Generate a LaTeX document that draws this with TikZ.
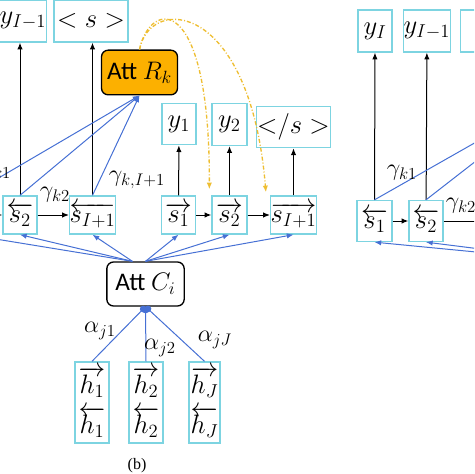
\RequirePackage{fix-cm}
\documentclass[tikz,border=0pt]{standalone}
\usepackage{fontspec}
\setmainfont{Carlito}
\newfontfamily\capfont{Liberation Serif}
\usetikzlibrary{arrows.meta}

\definecolor{boxcyan}{RGB}{125,212,225}
\definecolor{attblue}{RGB}{70,112,212}
\definecolor{attorange}{RGB}{252,176,0}
\definecolor{dashgold}{RGB}{238,190,50}

\tikzset{every picture/.style={line width=0.75pt},
  cellbox/.style={draw=boxcyan, line width=1pt, fill=white, inner sep=0pt, font=\fontsize{20}{24}\selectfont},
  attbox/.style={draw=black, line width=1pt, rounded corners=5pt, inner sep=0pt, minimum width=57pt, minimum height=33.5pt, font=\fontsize{19}{22}\selectfont},
  flow/.style={-{Latex[length=5pt,width=4pt]}, black},
  weight/.style={-{Latex[length=5pt,width=4pt]}, attblue},
  copyarc/.style={-{Latex[length=5pt,width=4pt]}, dashgold, line width=1pt, dash pattern=on 3pt off 1.5pt on 0.75pt off 1.5pt},
  wlabel/.style={inner sep=0.75pt, font=\fontsize{18}{21}\selectfont}
}

\begin{document}
\begin{tikzpicture}[x=0.75pt,y=0.75pt,yscale=-1,xscale=1]
\useasboundingbox (0,0) rectangle (474,474);
\clip (0,0) rectangle (474,474);

% Text Node
\node [cellbox, minimum width=30pt, minimum height=31.5pt] (yIm1L) at (23,21) {$y_{I-1}$};
% Text Node
\node [cellbox, minimum width=55.5pt, minimum height=31.5pt] (bos) at (91,21) {$<s>$};
% Text Node
\node [attbox, fill=attorange] (attR) at (139.5,72.5) {Att $R_k$};
% Text Node
\node [cellbox, minimum width=25.5pt, minimum height=31pt] (y1) at (179,124) {$y_1$};
% Text Node
\node [cellbox, minimum width=26.25pt, minimum height=31.5pt] (y2) at (229.5,124.5) {$y_2$};
% Text Node
\node [cellbox, minimum width=55.5pt, minimum height=31pt] (eos) at (293.5,127) {${<}/s>$};

% Text Node
\node [cellbox, minimum width=25.5pt, minimum height=28.5pt] (s1L) at (-31,215) {$\overleftarrow{s_1}$};
% Text Node
\node [cellbox, minimum width=25.5pt, minimum height=28.5pt] (s2L) at (20,215) {$\overleftarrow{s_2}$};
% Text Node
\node [cellbox, minimum width=32.25pt, minimum height=28.5pt] (sI1L) at (92.5,215) {$\overleftarrow{s_{I+1}}$};
% Text Node
\node [cellbox, minimum width=25.5pt, minimum height=28.5pt] (s1R) at (178.5,215) {$\overrightarrow{s_1}$};
% Text Node
\node [cellbox, minimum width=26.25pt, minimum height=28.5pt] (s2R) at (229.5,215) {$\overrightarrow{s_2}$};
% Text Node
\node [cellbox, minimum width=32.25pt, minimum height=28.5pt] (sI1R) at (293.5,215) {$\overrightarrow{s_{I+1}}$};

% Text Node
\node [attbox, fill=white, minimum width=58pt, minimum height=33pt] (attC) at (145.5,284) {Att $C_i$};
% Text Node
\node [cellbox, minimum width=25.5pt, minimum height=60.75pt, align=center] (h1) at (92,402.5) {$\overrightarrow{h_1}$\\[6pt]$\overleftarrow{h_1}$};
% Text Node
\node [cellbox, minimum width=25.5pt, minimum height=60.75pt, align=center] (h2) at (146,402.5) {$\overrightarrow{h_2}$\\[6pt]$\overleftarrow{h_2}$};
% Text Node
\node [cellbox, minimum width=23.25pt, minimum height=60.75pt, align=center] (hJ) at (204.5,402.5) {$\overrightarrow{h_J}$\\[6pt]$\overleftarrow{h_J}$};
% Text Node
\node [inner sep=0.75pt, font=\capfont\fontsize{12}{14}\selectfont] (capb) at (137,466) {(b)};

% Text Node
\node [cellbox, minimum width=25.5pt, minimum height=31.5pt] (yI) at (375,31) {$y_I$};
% Text Node
\node [cellbox, minimum width=34.5pt, minimum height=31.5pt] (yIm1) at (427,31) {$y_{I-1}$};
% Text Node
\node [cellbox, minimum width=52pt, minimum height=31.5pt] (yIm2) at (495,31) {};
% Text Node
\node [cellbox, minimum width=26.25pt, minimum height=30.75pt] (s1r) at (374.5,221) {$\overleftarrow{s_1}$};
% Text Node
\node [cellbox, minimum width=25.5pt, minimum height=30.75pt] (s2r) at (426,221) {$\overleftarrow{s_2}$};
\coordinate (s3r) at (492,221);
\coordinate (attRr) at (566,91);
\coordinate (attCr) at (600,264);

%Straight Lines
\draw [flow] (s1L) -- (s2L);
\draw [flow] (s2L) -- (sI1L);
\draw [flow] (s1R) -- (s2R);
\draw [flow] (s2R) -- (sI1R);
\draw [flow] (s1r) -- (s2r);
\draw [flow] (s2r) -- (s3r);
%Straight Lines
\draw [flow] (s2L.north) -- (s2L.north |- yIm1L.south);
\draw [flow] (sI1L.north) -- (sI1L.north |- bos.south);
\draw [flow] (s1R) -- (y1);
\draw [flow] (s2R) -- (y2);
\draw [flow] (sI1R) -- (eos);
\draw [flow] (s1r) -- (yI);
\draw [flow] (s2r) -- (yIm1);

%Straight Lines
\draw [weight] (s1L.north) -- (attR.south);
\draw [weight] (s2L.north) -- (attR.south);
\draw [weight] (sI1L.north) -- (attR.south);
\draw [attblue] (s1r.north) -- (attRr);
\draw [attblue] (s2r.north) -- (attRr);
%Straight Lines
\draw [weight] (attC.120) -- (s1L.south);
\draw [weight] (attC.120) -- (s2L.south);
\draw [weight] (attC.120) -- (sI1L.south);
\draw [weight] (attC.north) -- (s1R.south);
\draw [weight] (attC.north) -- (s2R.south);
\draw [weight] (attC.north) -- (sI1R.south);
\draw [weight] (attCr) -- (s1r.south);
\draw [weight] (attCr) -- (s2r.south);
%Straight Lines
\draw [attblue, -{Circle[length=5pt]}] (h1.north) -- (attC.south);
\draw [attblue, -{Circle[length=5pt]}] (h2.north) -- (attC.south);
\draw [attblue, -{Circle[length=5pt]}] (hJ.north) -- (attC.south);

%Curve Lines
\draw [copyarc] (attR.north) .. controls (150,0) and (210,-10) .. ([shift={(-2,-6)}]s2R.north west);
\draw [copyarc] (attR.north) .. controls (150,-5) and (250,0) .. ([shift={(-4,-3)}]sI1R.north west);

% Text Node
\node [wlabel] at (-4,172) {$\gamma_{k1}$};
% Text Node
\node [wlabel] at (55,195) {$\gamma_{k2}$};
% Text Node
\node [wlabel] at (137,180) {$\gamma_{k,I+1}$};
% Text Node
\node [wlabel] at (402,173) {$\gamma_{k1}$};
% Text Node
\node [wlabel] at (461,206) {$\gamma_{k2}$};
% Text Node
\node [wlabel] at (100,331) {$\alpha_{j1}$};
% Text Node
\node [wlabel] at (160,348) {$\alpha_{j2}$};
% Text Node
\node [wlabel] at (215,340) {$\alpha_{jJ}$};

\end{tikzpicture}
\end{document}
